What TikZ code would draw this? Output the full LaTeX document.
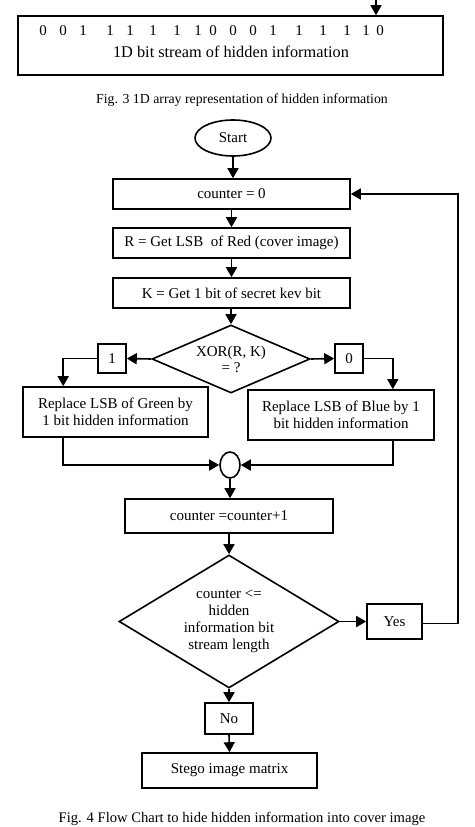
\documentclass[tikz,border=0pt]{standalone}
\usepackage{fontspec}
\setmainfont{Liberation Serif}
\usetikzlibrary{arrows.meta,shapes.geometric,calc}
\begin{document}
\begin{tikzpicture}[x=1pt,y=-1pt,
  line width=1.6pt,
  every node/.style={font=\fontsize{15}{17}\selectfont},
  box/.style={draw,rectangle,inner sep=0pt,align=center},
  dia/.style={draw,diamond,inner sep=0pt,align=center},
  arr/.style={-{Triangle[length=10pt,width=11pt]}},
  bit/.style={inner sep=0pt,font=\fontsize{15}{17}\selectfont},
  captext/.style={inner sep=0pt,font=\fontsize{13.8}{16}\selectfont}]
\useasboundingbox (0,0) rectangle (474,827);
% Fig. 3
\node[box,minimum width=425pt,minimum height=59pt] (stream) at (230.5,45.5) {};
\foreach \x/\b [count=\i] in {43/0,63/0,83/1,110/1,130/1,153/1,177/1,198/1,213/0,233/0,253/0,273/1,299/1,323/1,347/1,366/1,380/0}
  \node[bit] (b\i) at (\x,31) {\b};
\node[inner sep=0pt,font=\fontsize{16.3}{18}\selectfont] (streamlbl) at (231,52) {1D bit stream of hidden information};
\coordinate (topin) at (376,-2);
\draw[arr] (topin) -- (topin |- stream.north);
\node[captext] (fig3) at (242,100) {Fig. 3 1D array representation of hidden information};
% Fig. 4
\node[draw,ellipse,minimum width=76pt,minimum height=36pt,inner sep=0pt] (start) at (233,138) {Start};
\node[box,minimum width=237pt,minimum height=30pt] (c0) at (231.5,194) {counter = 0};
\node[box,minimum width=237pt,minimum height=30pt] (red) at (231.5,243) {R = Get LSB \ of Red (cover image)};
\node[box,minimum width=237pt,minimum height=30pt] (key) at (231.5,293) {K = Get 1 bit of secret kev bit};
\node[dia,shape aspect=2.3,minimum width=158pt,minimum height=68pt] (xor) at (231,359) {XOR(R, K)\\[-1pt]= ?};
\node[box,minimum width=28pt,minimum height=29pt] (one) at (112,358.5) {1};
\node[box,minimum width=28pt,minimum height=29pt] (zero) at (349,358.5) {0};
\node[box,minimum width=185pt,minimum height=50pt] (green) at (115.5,412) {Replace LSB of Green by\\1 bit hidden information};
\node[box,minimum width=186pt,minimum height=50pt] (blue) at (341,415) {Replace LSB of Blue by 1\\bit hidden information};
\node[draw,ellipse,minimum width=20pt,minimum height=26pt,inner sep=0pt] (join) at (230,465) {};
\node[box,minimum width=208pt,minimum height=34pt] (cplus) at (229,516) {counter =counter+1};
\node[dia,shape aspect=1.65,minimum width=220pt,minimum height=133pt] (cond) at (229,621.5) {counter <=\\hidden\\information bit\\stream length};
\node[box,minimum width=55pt,minimum height=35pt] (yes) at (394.5,621.5) {Yes};
\node[box,minimum width=48pt,minimum height=31pt] (no) at (229,718.5) {No};
\node[box,minimum width=175pt,minimum height=35pt] (stego) at (229.5,770.5) {Stego image matrix};
\node[inner sep=0pt,font=\fontsize{14.6}{16}\selectfont] (fig4) at (242,819) {Fig. 4 Flow Chart to hide hidden information into cover image};
% connectors
\draw[arr] (start.south) -- (start.south |- c0.north);
\draw[arr] (c0) -- (red);
\draw[arr] (red) -- (key);
\draw[arr] (key.south) -- (key.south -| xor.north) -- (xor.north);
\draw[arr] (xor.west) -- (one.east);
\draw[arr] (one.west) -| ([xshift=41pt]green.north west);
\draw[arr] (xor.east) -- (zero.west);
\draw[arr] (zero.east) -| ([xshift=-42pt]blue.north east);
\draw[arr] ([xshift=41pt]green.south west) |- (join.west);
\draw[arr] ([xshift=-42pt]blue.south east) |- (join.east);
\draw[arr] (join.south) -- (join.south |- cplus.north);
\draw[arr] (cplus.south) -- (cond.north);
\draw[arr] (cond.east) -- (yes.west);
\draw[arr] ([yshift=-2pt]yes.east) -- ++(35,0) |- (c0.east);
\draw[arr] (cond.south) -- (no.north);
\draw[arr] (no.south) -- (stego.north);
\end{tikzpicture}
\end{document}
